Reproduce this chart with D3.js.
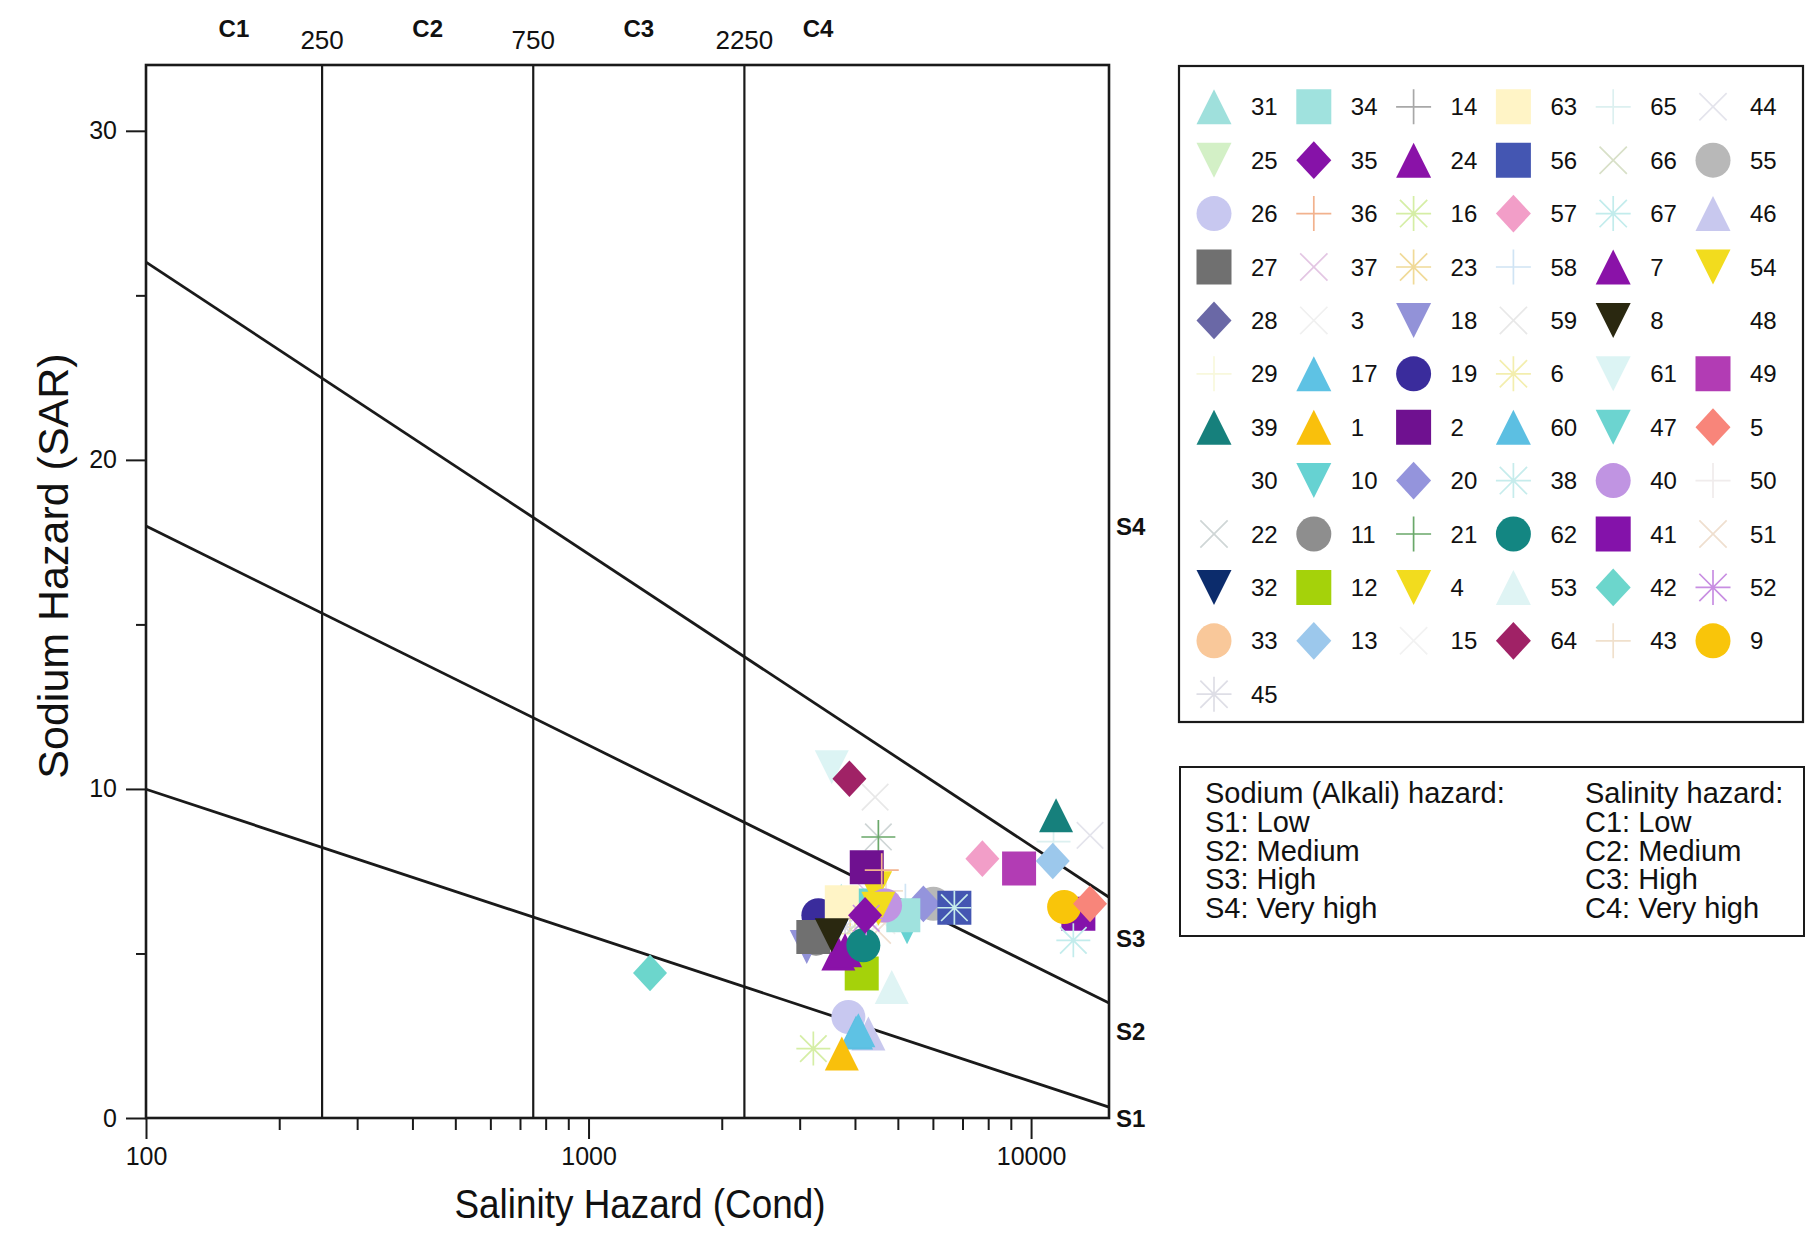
<!DOCTYPE html>
<html>
<head>
<meta charset="utf-8">
<script src="https://cdn.jsdelivr.net/npm/d3@7"></script>
<style>
  body { margin: 0; background: #fff; }
  text { font-family: "Liberation Sans", Arial, sans-serif; fill: #111; }
  .zone { font-weight: bold; font-size: 24px; }
  .tick text { font-size: 25px; }
</style>
</head>
<body>
<svg id="wilcox" width="1820" height="1236"></svg>
<script>
/* Wilcox (USSL) diagram: salinity vs sodium hazard */

// ---- data ------------------------------------------------------------
// samples in drawing order (hidden / faint ones first)
const sampleIds = [30, 48, 3, 6, 14, 15, 23, 29, 37, 43, 45, 50, 51, 58, 66,
    11, 28, 31, 32, 33, 25, 47, 10,
    42, 61, 64, 59, 22, 21, 65, 39, 44, 57, 49, 13, 41, 9, 5, 67,
    55, 20, 56, 38, 19, 18, 27, 63, 12, 24, 7, 8, 62, 4, 2, 36,
    34, 40, 54, 52, 35, 53, 26, 46, 60, 17, 1, 16];
const ecValues = [4200, 4300, 4600, 4000, 3500, 4200, 3900, 3700, 4300, 4700, 3800, 5000, 4500, 5200, 4100,
    3267, 3336, 3724, 3551, 4558, 4107, 4282, 5245,
    1377, 3545, 3886, 4442, 4518, 4518, 11240, 11390, 13590, 7762, 9395, 11195, 12790, 11875, 13590, 12460,
    6014, 5710, 6709, 6709, 3306, 3112, 3221, 3735, 4143, 3668, 3799, 3545, 4178, 4442, 4253, 4598,
    5144, 4678, 4518, 4240, 4216, 4844, 3865, 4289, 4023, 4071, 3735, 3221];
const sarValues = [6.0, 6.2, 6.0, 5.6, 5.9, 5.5, 6.2, 5.3, 6.8, 6.9, 5.8, 6.3, 5.7, 6.6, 6.0,
    5.45, 5.85, 6.6, 5.55, 6.45, 4.8, 6.46, 5.8,
    4.41, 10.66, 10.31, 9.75, 8.54, 8.54, 8.4, 9.2, 8.59, 7.88, 7.58, 7.81, 6.21, 6.41, 6.51, 5.4,
    6.51, 6.51, 6.39, 6.39, 6.16, 5.2, 5.5, 6.56, 4.39, 5.0, 5.1, 5.55, 5.25, 6.98, 7.62, 7.53,
    6.16, 6.46, 6.36, 6.07, 6.16, 3.98, 3.07, 2.57, 2.6, 2.67, 1.96, 2.11];

// legend reading order (row by row, 6 columns)
const legendOrder = [31, 34, 14, 63, 65, 44, 25, 35, 24, 56, 66, 55, 26, 36, 16, 57, 67, 46,
    27, 37, 23, 58, 7, 54, 28, 3, 18, 59, 8, 48, 29, 17, 19, 6, 61, 49,
    39, 1, 2, 60, 47, 5, 30, 10, 20, 38, 40, 50, 22, 11, 21, 62, 41, 51,
    32, 12, 4, 53, 42, 52, 33, 13, 15, 64, 43, 9, 45];

// marker per sample number (index 0 -> sample 1)
const markerShapes = ['triUp', 'square', 'cross', 'triDown', 'diamond', 'asterisk', 'triUp', 'triDown', 'circle', 'triDown',
    'circle', 'square', 'diamond', 'plus', 'cross', 'asterisk', 'triUp', 'triDown', 'circle', 'diamond',
    'plus', 'cross', 'asterisk', 'triUp', 'triDown', 'circle', 'square', 'diamond', 'plus', 'none',
    'triUp', 'triDown', 'circle', 'square', 'diamond', 'plus', 'cross', 'asterisk', 'triUp', 'circle',
    'square', 'diamond', 'plus', 'cross', 'asterisk', 'triUp', 'triDown', 'none', 'square', 'plus',
    'cross', 'asterisk', 'triUp', 'triDown', 'circle', 'square', 'diamond', 'plus', 'cross', 'triUp',
    'triDown', 'circle', 'square', 'diamond', 'plus', 'cross', 'asterisk'];
const markerColors = ['#f9c00c', '#6f1190', '#f0f0f0', '#f2dc1e', '#f8857a', '#f3eeae', '#8a12a8', '#2a2810', '#f9c50a', '#66d2d2',
    '#8e8e8e', '#a5d20a', '#9cc8ec', '#a8a8a8', '#f2f2f2', '#d5eea5', '#5ec2e4', '#9292d8', '#3a2c9c', '#9494dc',
    '#6aa86a', '#cfd6d6', '#f0da98', '#8a12a8', '#d3f0c6', '#c8c8f0', '#707070', '#6a68a6', '#f8f8dc', '#ffffff',
    '#9fe0dc', '#0c2c6c', '#f9c89a', '#a0e2de', '#8612a8', '#f2b28e', '#e3c6e3', '#c6ecec', '#16807c', '#c094e2',
    '#8412aa', '#6cd6cc', '#f0e0cc', '#e4e4ec', '#dedee6', '#c8c8ee', '#6cd4d0', '#ffffff', '#b23cb4', '#f0ecec',
    '#efdfcf', '#c88ee2', '#dff4f4', '#f2dc1e', '#b8b8b8', '#4456b2', '#f29ec8', '#d0e4f4', '#e8e8e8', '#5cbfe2',
    '#dcf4f4', '#138682', '#fff4c6', '#a02266', '#dcf0f0', '#d8e0c8', '#c2ecec'];

// boundary lines SAR = a - b*log10(EC)
const sLineA = [18.87, 31.31, 43.75];
const sLineB = [4.44, 6.66, 8.87];
const cLimits = [250, 750, 2250];
const cLabels = ['C1', 'C2', 'C3', 'C4'];
const cLabelAt = [158, 433, 1299, 3300];
const sLabels = ['S1', 'S2', 'S3', 'S4'];
const sLabelAt = [0, 2.64, 5.46, 18.0];
const xMajor = [100, 1000, 10000];
const xMinor = [200, 300, 400, 500, 600, 700, 800, 900, 2000, 3000, 4000, 5000, 6000, 7000, 8000, 9000];
const yMajor = [0, 10, 20, 30];
const yMinor = [5, 15, 25];
const sodiumText = ['Sodium (Alkali) hazard:', 'S1: Low', 'S2: Medium', 'S3: High', 'S4: Very high'];
const salinityText = ['Salinity hazard:', 'C1: Low', 'C2: Medium', 'C3: High', 'C4: Very high'];

// ---- drawing ---------------------------------------------------------
let svg = d3.select('#wilcox');
svg.append('rect').attr('width', 1820).attr('height', 1236).attr('fill', '#fff');

const plotLeft = 146, plotRight = 1109, plotTop = 65, plotBottom = 1118;
let x = d3.scaleLog().domain([100, 15000]).range([plotLeft, plotRight]);
let y = d3.scaleLinear().domain([0, 32]).range([plotBottom, plotTop]);

let markerPath = (shape, s) => {
    const h = s / 2, p = d3.path();
    if (shape === 'square') p.rect(-h, -h, s, s);
    else if (shape === 'circle') { p.moveTo(h, 0); p.arc(0, 0, h, 0, 2 * Math.PI); }
    else if (shape === 'triUp') { p.moveTo(0, -h); p.lineTo(h, h); p.lineTo(-h, h); p.closePath(); }
    else if (shape === 'triDown') { p.moveTo(-h, -h); p.lineTo(h, -h); p.lineTo(0, h); p.closePath(); }
    else if (shape === 'diamond') { p.moveTo(0, -h * 1.08); p.lineTo(h, 0); p.lineTo(0, h * 1.08); p.lineTo(-h, 0); p.closePath(); }
    if (shape === 'plus' || shape === 'asterisk') {
        p.moveTo(-h, 0); p.lineTo(h, 0); p.moveTo(0, -h); p.lineTo(0, h);
    }
    if (shape === 'cross' || shape === 'asterisk') {
        const d = h * 0.78;
        p.moveTo(-d, -d); p.lineTo(d, d); p.moveTo(-d, d); p.lineTo(d, -d);
    }
    return p.toString();
};
const lineShapes = ['plus', 'cross', 'asterisk'];

let drawMarker = (g, id, cx, cy, size) => {
    const shape = markerShapes[id - 1], color = markerColors[id - 1];
    if (shape === 'none') return;
    const isLine = lineShapes.includes(shape);
    g.append('path')
        .attr('d', markerPath(shape, size))
        .attr('transform', 'translate(' + cx + ',' + cy + ')')
        .attr('fill', isLine ? 'none' : color)
        .attr('stroke', isLine ? color : 'none')
        .attr('stroke-width', isLine ? 1.7 : 0);
};

// class limits (vertical) and sodium boundaries (oblique)
let plotG = svg.append('g');
cLimits.forEach(c => {
    plotG.append('line').attr('x1', x(c)).attr('x2', x(c)).attr('y1', y(0)).attr('y2', y(32))
        .attr('stroke', '#1a1a1a').attr('stroke-width', 2.2);
});
let bLine = d3.line().x(d => x(d.ec)).y(d => y(d.sar));
sLineA.forEach((a, i) => {
    const pts = x.domain().map(ec => ({ ec: ec, sar: a - sLineB[i] * Math.log10(ec) }));
    plotG.append('path').attr('d', bLine(pts)).attr('fill', 'none')
        .attr('stroke', '#1a1a1a').attr('stroke-width', 2.8);
});

// samples
let markG = svg.append('g');
sampleIds.forEach((id, i) => drawMarker(markG, id, x(ecValues[i]), y(sarValues[i]), 34));

// frame
svg.append('rect').attr('x', plotLeft).attr('y', plotTop).attr('width', plotRight - plotLeft).attr('height', plotBottom - plotTop)
    .attr('fill', 'none').attr('stroke', '#1a1a1a').attr('stroke-width', 2.6);

// axes
svg.append('g').attr('transform', 'translate(0,' + plotBottom + ')')
    .call(d3.axisBottom(x).tickValues(xMajor).tickFormat(d3.format('d')).tickSize(21).tickPadding(8));
svg.append('g').attr('transform', 'translate(0,' + plotBottom + ')')
    .call(d3.axisBottom(x).tickValues(xMinor).tickFormat('').tickSize(12));
svg.append('g').attr('transform', 'translate(' + plotLeft + ',0)')
    .call(d3.axisLeft(y).tickValues(yMajor).tickSize(20).tickPadding(9));
svg.append('g').attr('transform', 'translate(' + plotLeft + ',0)')
    .call(d3.axisLeft(y).tickValues(yMinor).tickFormat('').tickSize(10));
svg.selectAll('.domain').remove();
svg.selectAll('.tick line').attr('stroke', '#1a1a1a').attr('stroke-width', 2);
svg.selectAll('.tick text').attr('fill', '#111');

// class labels on top
cLabels.forEach((c, i) => {
    svg.append('text').classed('zone', true).attr('x', x(cLabelAt[i])).attr('y', 37)
        .attr('text-anchor', 'middle').text(c);
});
cLimits.forEach(c => {
    svg.append('text').attr('x', x(c)).attr('y', 49).attr('text-anchor', 'middle')
        .attr('font-size', 26).text(c);
});
// sodium labels on the right
sLabels.forEach((s, i) => {
    svg.append('text').classed('zone', true).attr('x', plotRight + 7).attr('y', y(sLabelAt[i]) + 9).text(s);
});

// axis titles
svg.append('text').attr('transform', 'translate(68,566) rotate(-90)').attr('text-anchor', 'middle')
    .attr('font-size', 43).text('Sodium Hazard (SAR)');
svg.append('text').attr('x', 640).attr('y', 1218).attr('text-anchor', 'middle')
    .attr('font-size', 40).attr('textLength', 371).attr('lengthAdjust', 'spacingAndGlyphs')
    .text('Salinity Hazard (Cond)');

// sample legend
let legG = svg.append('g');
legG.append('rect').attr('x', 1179).attr('y', 66).attr('width', 624).attr('height', 656)
    .attr('fill', '#fff').attr('stroke', '#1a1a1a').attr('stroke-width', 2.2);
legendOrder.forEach((id, i) => {
    const cx = 1214 + (i % 6) * 99.8, cy = 106.8 + Math.floor(i / 6) * 53.4;
    drawMarker(legG, id, cx, cy, 35);
    legG.append('text').attr('x', cx + 37).attr('y', cy + 8.5).attr('font-size', 24).text(id);
});

// hazard class key
let keyG = svg.append('g');
keyG.append('rect').attr('x', 1180).attr('y', 767).attr('width', 624).attr('height', 169)
    .attr('fill', '#fff').attr('stroke', '#1a1a1a').attr('stroke-width', 2);
sodiumText.forEach((t, i) => {
    keyG.append('text').attr('x', 1205).attr('y', 803 + i * 28.75).attr('font-size', 29).text(t);
});
salinityText.forEach((t, i) => {
    keyG.append('text').attr('x', 1585).attr('y', 803 + i * 28.75).attr('font-size', 29).text(t);
});
</script>
</body>
</html>
